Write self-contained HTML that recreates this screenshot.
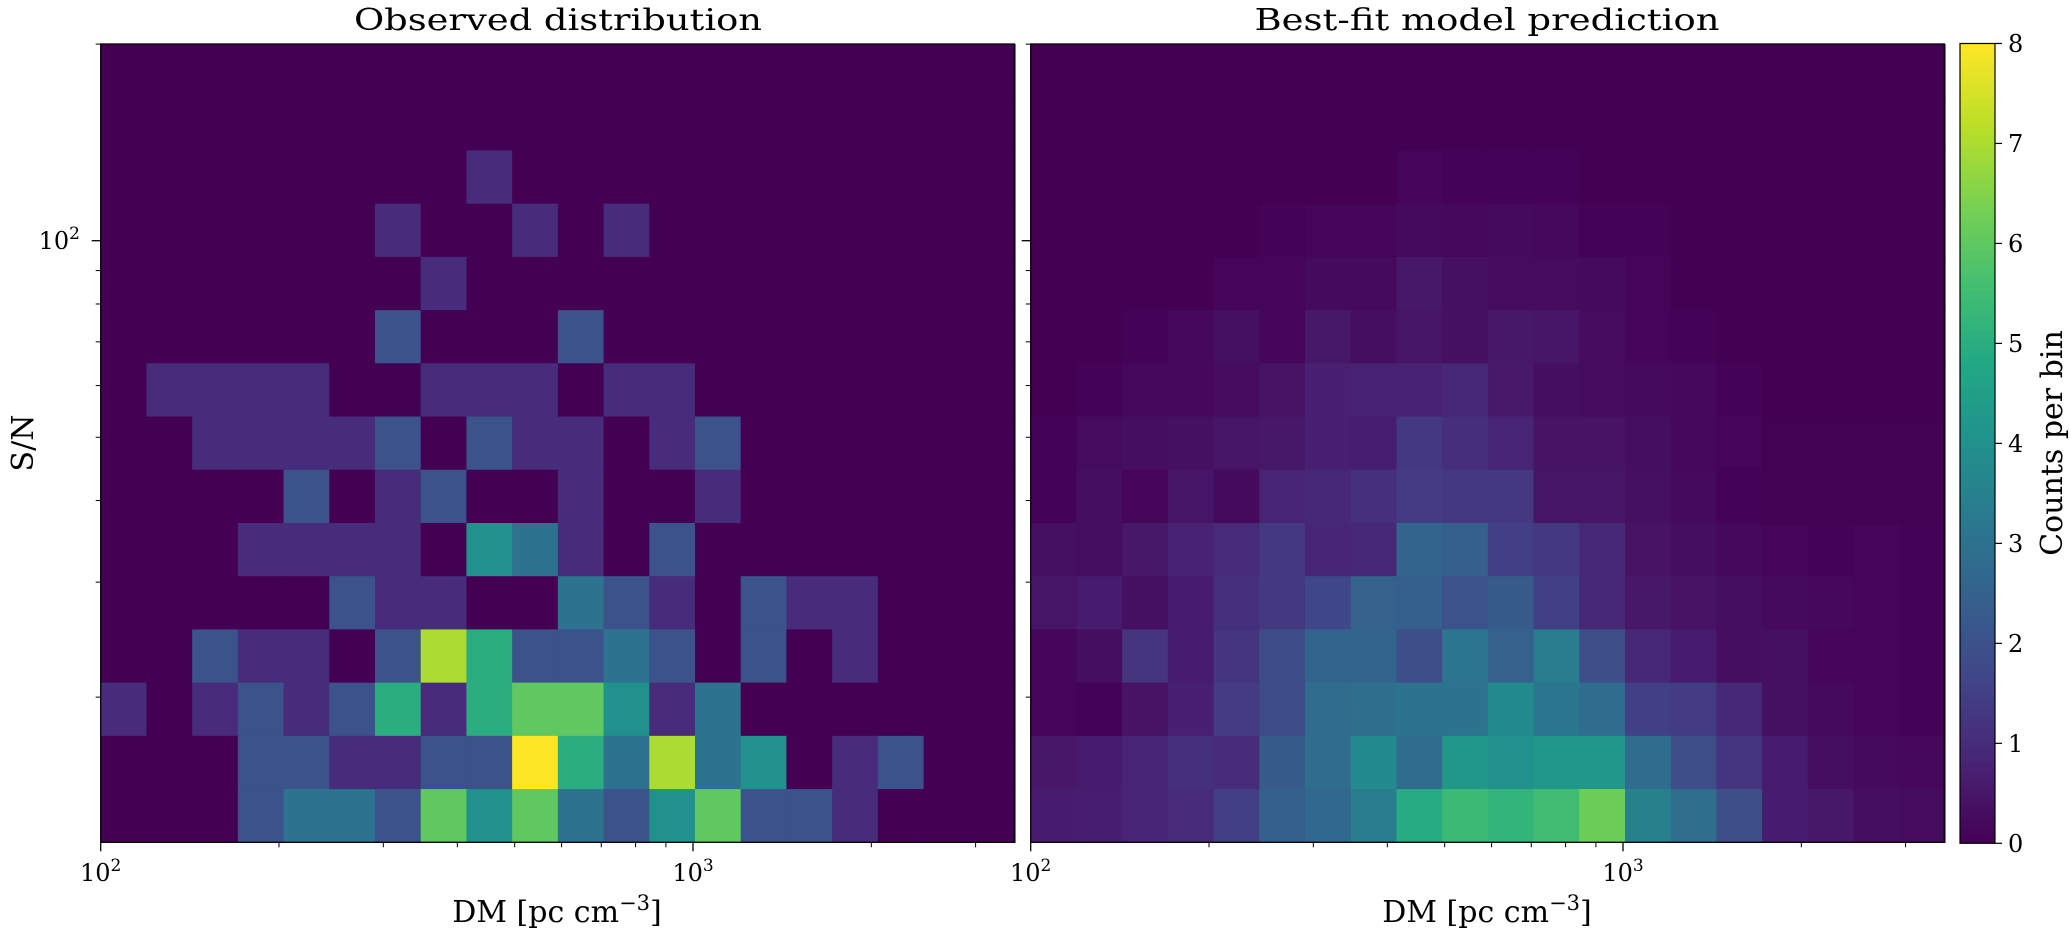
<!DOCTYPE html>
<html><head><meta charset="utf-8">
<style>
html,body{margin:0;padding:0;background:#fff;}
svg{display:block;font-family:"DejaVu Serif","Liberation Serif",serif;}
</style></head>
<body>
<svg id="s" width="2070" height="930" viewBox="0 0 2070 930" xmlns="http://www.w3.org/2000/svg">
<defs>
<linearGradient id="vir" x1="0" y1="1" x2="0" y2="0">
<stop offset="0" stop-color="#440154"/><stop offset="0.1" stop-color="#482475"/><stop offset="0.2" stop-color="#414487"/><stop offset="0.3" stop-color="#355f8d"/><stop offset="0.4" stop-color="#2a788e"/><stop offset="0.5" stop-color="#21918c"/><stop offset="0.6" stop-color="#22a884"/><stop offset="0.7" stop-color="#44bf70"/><stop offset="0.8" stop-color="#7ad151"/><stop offset="0.9" stop-color="#bddf26"/><stop offset="1" stop-color="#fde725"/>
</linearGradient>
</defs>
<g id="cells"></g>
<g id="axes" stroke="#000" fill="none"></g>
<rect x="1960" y="43.5" width="35" height="799.8" fill="url(#vir)" stroke="#000" stroke-width="1.2"/>
<text x="558" y="30" font-size="30" text-anchor="middle" textLength="408" lengthAdjust="spacingAndGlyphs">Observed distribution</text>
<text x="1487" y="30" font-size="30" text-anchor="middle" textLength="465" lengthAdjust="spacingAndGlyphs">Best-fit model prediction</text>
<text x="557" y="922" font-size="30" text-anchor="middle">DM [pc cm<tspan dy="-12" font-size="21">−3</tspan><tspan dy="12">]</tspan></text>
<text x="1487" y="922" font-size="30" text-anchor="middle">DM [pc cm<tspan dy="-12" font-size="21">−3</tspan><tspan dy="12">]</tspan></text>
<text transform="translate(33,443) rotate(-90)" font-size="30" text-anchor="middle">S/N</text>
<text transform="translate(2062,443) rotate(-90)" font-size="30" text-anchor="middle">Counts per bin</text>
<g id="labels" font-size="24"></g>
</svg>
<script>
(function(){
var NS="http://www.w3.org/2000/svg";
function el(p,t,a,txt){var e=document.createElementNS(NS,t);for(var k in a)e.setAttribute(k,String(a[k]));if(txt!==undefined)e.textContent=txt;p.appendChild(e);return e;}
function lg(v){return Math.log(v)/Math.LN10;}
var stops=[[68,1,84],[72,36,117],[65,68,135],[53,95,141],[42,120,142],[33,145,140],[34,168,132],[68,191,112],[122,209,81],[189,223,38],[253,231,37]];
function vir(v){var t=Math.max(0,Math.min(1,v/8))*10;var i=Math.min(9,Math.floor(t));var f=t-i;var a=stops[i],b=stops[i+1];
return "rgb("+Math.round(a[0]+(b[0]-a[0])*f)+","+Math.round(a[1]+(b[1]-a[1])*f)+","+Math.round(a[2]+(b[2]-a[2])*f)+")";}
var L=["00000000000000000000","00000000000000000000","00000000100000000000","00000010010100000000","00000001000000000000","00000020002000000000","01111001110110000000","00111120211012000000","00002012001001000000","00011110431020000000","00000211003210211000","00211027522320201000","10121251566413000000","00022112285373401200","00023326463246221000"];
var Z=[0,0,0,0,0,0,0,0,0,0,0,0,0,0,0,0,0,0,0,0];
var R=[Z,Z,
[0,0,0,0,0,0,0,0,0.1,0.05,0.05,0.05,0,0,0,0,0,0,0,0],
[0,0,0,0,0,0.05,0.1,0.1,0.2,0.15,0.2,0.15,0.05,0.05,0,0,0,0,0,0],
[0,0,0,0,0.1,0.1,0.2,0.2,0.5,0.35,0.25,0.25,0.2,0.1,0,0,0,0,0,0],
[0,0,0.05,0.15,0.35,0.1,0.5,0.3,0.45,0.35,0.5,0.45,0.25,0.1,0.05,0,0,0,0,0],
[0,0.05,0.15,0.15,0.25,0.4,0.7,0.75,0.75,0.9,0.55,0.3,0.25,0.2,0.15,0.05,0,0,0,0],
[0.05,0.25,0.3,0.35,0.45,0.5,0.7,0.65,1.3,1.05,0.8,0.4,0.4,0.3,0.15,0.1,0.02,0.02,0.02,0.02],
[0.05,0.3,0.1,0.45,0.2,0.8,0.9,1.1,1.4,1.3,1.3,0.45,0.45,0.35,0.2,0.05,0.02,0.02,0.02,0.02],
[0.35,0.3,0.5,0.75,0.95,1.3,0.85,0.9,2.6,2.4,1.5,1.3,0.9,0.4,0.3,0.15,0.1,0.05,0.1,0.05],
[0.45,0.6,0.35,0.6,1.1,1.3,1.7,2.5,2.4,2.0,2.3,1.5,0.9,0.5,0.4,0.3,0.2,0.15,0.1,0.05],
[0.1,0.3,1.2,0.6,1.2,1.8,2.6,2.6,1.9,3.1,2.5,3.4,1.9,0.9,0.6,0.3,0.35,0.1,0.1,0.05],
[0.1,0.05,0.4,0.7,1.4,1.8,2.8,2.9,3.0,3.0,3.8,3.1,2.8,1.5,1.4,0.9,0.35,0.2,0.1,0.05],
[0.5,0.6,0.8,1.1,1.0,2.3,2.8,3.8,2.8,4.2,4.0,4.2,4.2,2.8,1.9,1.2,0.6,0.3,0.2,0.15],
[0.6,0.65,0.8,0.95,1.5,2.4,2.7,3.4,4.9,5.4,5.2,5.5,6.2,3.5,2.9,1.9,0.6,0.5,0.3,0.25]];
var T0=44,B0=842.3,H=(B0-T0)/15,W=914.3/20,X0=[100.7,1030.7];
var g=document.getElementById("cells");
for(var p=0;p<2;p++){for(var r=0;r<15;r++)for(var c=0;c<20;c++){var v=p==0?+L[r].charAt(c):R[r][c];
el(g,"rect",{x:(X0[p]+c*W).toFixed(2),y:(T0+r*H).toFixed(2),width:(W+0.6).toFixed(2),height:(H+0.6).toFixed(2),fill:vir(v)});}}
var ax=document.getElementById("axes"),lb=document.getElementById("labels");
var xs=[[100,1],[200,0],[300,0],[400,0],[500,0],[600,0],[700,0],[800,0],[900,0],[1000,1],[2000,0],[3000,0]];
var ys=[[20,0],[30,0],[40,0],[50,0],[60,0],[70,0],[80,0],[90,0],[100,1],[200,0]];
for(var p=0;p<2;p++){var x0=X0[p];
el(ax,"rect",{x:x0,y:T0,width:913.6,height:(B0-T0),"stroke-width":1.3});
for(var i=0;i<xs.length;i++){var t=xs[i];var x=x0+592.3*lg(t[0]/100);var len=t[1]?9:5;
el(ax,"line",{x1:x,y1:B0,x2:x,y2:B0+len,"stroke-width":t[1]?1.3:1});}
var l1=el(lb,"text",{x:x0,y:881,"text-anchor":"middle"},"10");el(l1,"tspan",{dy:-10,"font-size":17},"2");
var l2=el(lb,"text",{x:x0+592.3,y:881,"text-anchor":"middle"},"10");el(l2,"tspan",{dy:-10,"font-size":17},"3");
for(var j=0;j<ys.length;j++){var t2=ys[j];var y=240.7-653*lg(t2[0]/100);var len2=t2[1]?9:5;
el(ax,"line",{x1:x0,y1:y,x2:x0-len2,y2:y,"stroke-width":t2[1]?1.3:1});}
}
var l3=el(lb,"text",{x:80,y:249,"text-anchor":"end"},"10");el(l3,"tspan",{dy:-10,"font-size":17},"2");
for(var k=0;k<=8;k++){var yy=843.3-k*99.98;el(ax,"line",{x1:1995,y1:yy,x2:2002,y2:yy,"stroke-width":1.2});
el(lb,"text",{x:2008,y:yy+8.5},""+k);}
})();
</script>
</body></html>
